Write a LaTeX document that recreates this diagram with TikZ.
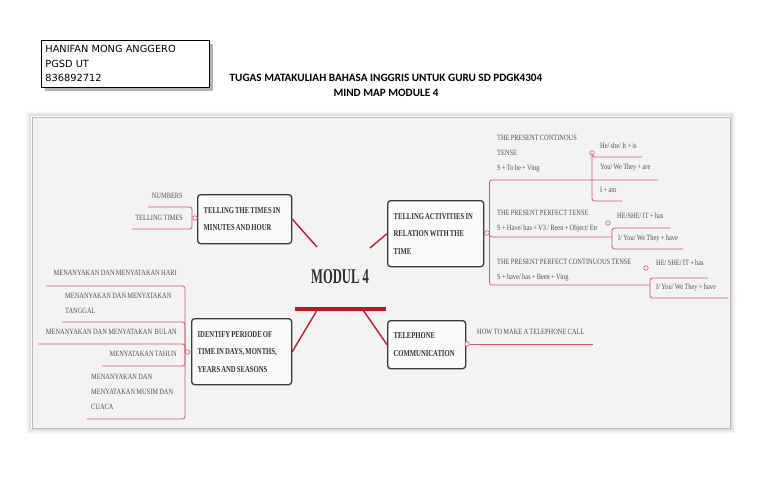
\documentclass[tikz,border=0pt]{standalone}
\usepackage{fontspec}
\setmainfont{Liberation Serif}
\newfontfamily\mapfont{Liberation Serif}[FakeStretch=0.8, WordSpace=0.8]
\newfontfamily\topicfont{Liberation Serif}[FakeStretch=0.74, WordSpace=0.7]
\newfontfamily\hubfont{Liberation Serif}[FakeStretch=0.6]
\newfontfamily\headfont{Carlito}
\newfontfamily\namefont{DejaVu Sans}
\usepackage{xcolor}
\usetikzlibrary{positioning, calc, shadows}

\definecolor{linkred}{RGB}{210,88,108}
\definecolor{barred}{RGB}{192,22,42}
\definecolor{spokered}{RGB}{182,32,50}
\definecolor{panelbg}{RGB}{243,243,243}
\definecolor{boxline}{RGB}{58,58,58}
\definecolor{subtext}{RGB}{82,82,82}

\begin{document}
\begin{tikzpicture}[
    x=1pt, y=-1pt,
    namebox/.style = {draw, line width=0.8pt, fill=white, anchor=north west,
                      minimum width=168pt, minimum height=47pt, inner xsep=4pt,
                      text width=160pt, align=flush left,
                      font=\namefont\fontsize{9.8}{14.5}\selectfont,
                      drop shadow={shadow xshift=3.5pt, shadow yshift=-3.5pt,
                                   fill=gray!60, opacity=1}},
    heading/.style = {align=center, font=\headfont\bfseries\fontsize{11.2}{15}\selectfont},
    panel/.style   = {fill=panelbg, draw=gray!55, line width=0.8pt,
                      minimum width=698pt, minimum height=311pt, inner sep=0pt},
    topic/.style   = {draw=boxline, line width=1.3pt, rounded corners=3pt,
                      fill=white!55!panelbg, anchor=north west, inner xsep=6pt,
                      inner ysep=0pt, align=flush left, text=black!80,
                      font=\topicfont\bfseries\fontsize{9}{17.5}\selectfont},
    hub/.style     = {inner sep=0pt, text=black!82, font=\hubfont\bfseries\fontsize{21}{24}\selectfont},
    sub/.style     = {inner sep=0pt, align=flush left, text=subtext,
                      font=\mapfont\fontsize{8}{15}\selectfont},
    link/.style    = {draw=linkred, line width=0.8pt, rounded corners=2.5pt},
    knob/.style    = {circle, draw=linkred, fill=panelbg, line width=0.6pt,
                      minimum size=4.5pt, inner sep=0pt},
    spoke/.style   = {draw=spokered, line width=1.4pt},
  ]
  \useasboundingbox (0,0) rectangle (768,503);
  \fill[white] (0,0) rectangle (768,503);

  \node[namebox] (author) at (41,40) {HANIFAN MONG ANGGERO\\PGSD UT\\836892712};
  \node[heading] (title) at (386,85.5) {TUGAS MATAKULIAH BAHASA INGGRIS UNTUK GURU SD PDGK4304\\MIND MAP MODULE 4};

  \node[panel] (panel) at (381,272.5) {};
  \foreach \d in {1,...,5}
    \draw[black, opacity=0.16-0.028*\d, line width=1pt]
      ($(panel.north west)+(-\d,-\d)$) rectangle ($(panel.south east)+(\d,\d)$);

  \node[hub] (hub) at (340,277) {MODUL 4};
  \coordinate (barW) at (295,309);
  \coordinate (barE) at (386,309);
  \draw[barred, line width=4pt] (barW) -- (barE);
  \coordinate (barL) at ($(barW)!0.25!(barE)$);
  \coordinate (barR) at ($(barW)!0.74!(barE)$);
  \coordinate (hubNW) at (317,247);
  \coordinate (hubNE) at (370,248);

  \node[topic, text width=82pt, minimum height=49pt] (timebox) at (197,194) {TELLING THE TIMES IN\\MINUTES AND HOUR};
  \node[topic, text width=84pt, minimum height=66pt] (actbox) at (387,200) {TELLING ACTIVITIES IN\\RELATION WITH THE\\TIME};
  \node[topic, text width=88pt, minimum height=66pt] (idbox) at (191,318) {IDENTIFY PERIODE OF\\TIME IN DAYS, MONTHS,\\YEARS AND SEASONS};
  \node[topic, text width=66pt, minimum height=48pt] (telbox) at (387,320) {TELEPHONE\\COMMUNICATION};

  \draw[spoke] (timebox.east) -- (hubNW);
  \draw[spoke] (actbox.west) -- (hubNE);
  \draw[spoke] (barL) -- (idbox.east);
  \draw[spoke] (barR) -- (telbox.west);

  % telling the times
  \node[sub, anchor=east] (numbers) at (183,196) {NUMBERS};
  \node[sub, anchor=east] (telltimes) at (183,218) {TELLING TIMES};
  \coordinate (timejoin) at (192,218);
  \draw[link] (timejoin) |- (148,207);
  \draw[link] (timejoin) |- (132,229);
  \node[knob] (timeknob) at (195,218) {};

  % periode of time
  \node[sub, anchor=east] (hari) at (177,273) {MENANYAKAN DAN MENYATAKAN HARI};
  \node[sub, anchor=north west] (tanggal) at (65,293.3) {MENANYAKAN DAN MENYATAKAN\\TANGGAL};
  \node[sub, anchor=east] (bulan) at (177,332) {MENANYAKAN DAN MENYATAKAN\ \ BULAN};
  \node[sub, anchor=east] (tahun) at (177,354) {MENYATAKAN TAHUN};
  \node[sub, anchor=north west] (musim) at (91,374.3) {MENANYAKAN DAN\\MENYATAKAN MUSIM DAN\\CUACA};
  \coordinate (idjoin) at (185,352);
  \draw[link] (idjoin) |- (46,286);
  \draw[link] (idjoin) |- (62,322);
  \draw[link] (idjoin) |- (38,344);
  \draw[link] (idjoin) |- (102,366);
  \draw[link] (idjoin) |- (87,419);
  \node[knob] (idknob) at (187.5,352) {};

  % activities and tenses
  \node[sub, anchor=north west] (contin) at (497,134.8) {THE PRESENT CONTINOUS\\TENSE\\S + To be + Ving};
  \node[sub, anchor=north west] (perfect) at (497,210.3) {THE PRESENT PERFECT TENSE\\S + Have/ has + V3 / Been + Object/ Etr};
  \node[sub, anchor=north west] (perfcont) at (497,259.3) {THE PRESENT PERFECT CONTINUOUS TENSE\\S + have/ has + Been + Ving};
  \coordinate (actjoin) at (489.5,233);
  \draw[link] (actjoin) |- (658,180);
  \draw[link] (actjoin) |- (612,237);
  \draw[link] (actjoin) |- (650,285);
  \node[knob] (actknob) at (487,233) {};

  \node[sub, anchor=west] (heis) at (600,146) {He/ she/ It + is};
  \node[sub, anchor=west] (youare) at (600,168) {You/ We They + are};
  \node[sub, anchor=west] (iam) at (600,190) {I + am};
  \node[knob] (contknob) at (592,153) {};
  \draw[link] (contknob.south) |- (642,157);
  \draw[link] (contknob.south) |- (622,201);

  \node[sub, anchor=west] (hehas) at (617,216) {HE/SHE/ IT + has};
  \node[sub, anchor=west] (ihave) at (618,239) {I/ You/ We They + have};
  \coordinate (perfjoin) at (612,238);
  \draw[link] (perfjoin) |- (670,228);
  \draw[link] (perfjoin) |- (683,249);
  \node[knob] (perfknob) at (608,223) {};

  \node[sub, anchor=west] (hehas2) at (656,263) {HE/ SHE/ IT + has};
  \node[sub, anchor=west] (ihave2) at (656,288) {I/ You/ We They + have};
  \coordinate (pcjoin) at (650,288);
  \draw[link] (pcjoin) |- (708,278);
  \draw[link] (pcjoin) |- (728,298);
  \node[knob] (pcknob) at (646,268) {};

  % telephone
  \node[sub, anchor=west] (callhow) at (477,332) {HOW TO MAKE A TELEPHONE CALL};
  \node[knob] (telknob) at (467,344) {};
  \draw[link] (telknob.east) -- (593,344);
\end{tikzpicture}
\end{document}
